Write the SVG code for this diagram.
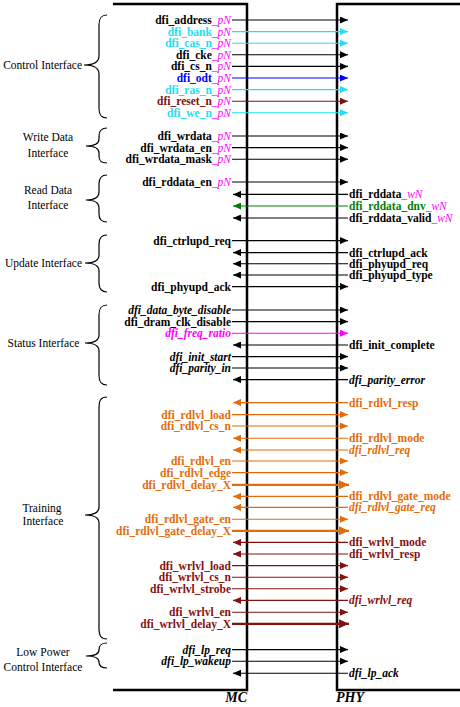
<svg xmlns="http://www.w3.org/2000/svg" width="460" height="707" viewBox="0 0 460 707">
<style>
.t{font-family:"Liberation Serif","Times New Roman",serif;font-size:11.5px;font-weight:bold}
.e{text-anchor:end}
.i{font-style:italic}
.s{fill:#FF00FF;font-style:italic;font-weight:normal}
.lb{font-family:"Liberation Serif","Times New Roman",serif;font-size:11.5px;fill:#000}
.c{text-anchor:middle}
.box{stroke:#000;stroke-width:2.5;fill:none}
.br{stroke:#000;stroke-width:1.2;fill:none}
.cn line{stroke-width:1.1}
.k{stroke:#000}.kf{fill:#000}
.cy{stroke:#22E0F2}.cyf{fill:#22E0F2}
.bl{stroke:#0000FF}.blf{fill:#0000FF}
.rd{stroke:#7F1010}.rdf{fill:#7F1010}
.gr{stroke:#007F00}.grf{fill:#007F00}
.mg{stroke:#FF00FF}.mgf{fill:#FF00FF}
.or{stroke:#E36C0A}.orf{fill:#E36C0A}
.wr{stroke:#861010}.wrf{fill:#861010}
.thick{stroke-width:2.3 !important}
.ttl{font-family:"Liberation Serif","Times New Roman",serif;font-size:14px;font-weight:bold;font-style:italic;fill:#000}
</style>
<defs>
<marker id="ak" markerUnits="userSpaceOnUse" markerWidth="8" markerHeight="7" refX="8" refY="3.5" orient="auto"><path d="M0,0L8,3.5L0,7z" fill="#000"/></marker>
<marker id="ac" markerUnits="userSpaceOnUse" markerWidth="8" markerHeight="7" refX="8" refY="3.5" orient="auto"><path d="M0,0L8,3.5L0,7z" fill="#22E0F2"/></marker>
<marker id="ab" markerUnits="userSpaceOnUse" markerWidth="8" markerHeight="7" refX="8" refY="3.5" orient="auto"><path d="M0,0L8,3.5L0,7z" fill="#0000FF"/></marker>
<marker id="ar" markerUnits="userSpaceOnUse" markerWidth="8" markerHeight="7" refX="8" refY="3.5" orient="auto"><path d="M0,0L8,3.5L0,7z" fill="#7F1010"/></marker>
<marker id="ag" markerUnits="userSpaceOnUse" markerWidth="8" markerHeight="7" refX="8" refY="3.5" orient="auto"><path d="M0,0L8,3.5L0,7z" fill="#007F00"/></marker>
<marker id="am" markerUnits="userSpaceOnUse" markerWidth="8" markerHeight="7" refX="8" refY="3.5" orient="auto"><path d="M0,0L8,3.5L0,7z" fill="#FF00FF"/></marker>
<marker id="ao" markerUnits="userSpaceOnUse" markerWidth="8" markerHeight="7" refX="8" refY="3.5" orient="auto"><path d="M0,0L8,3.5L0,7z" fill="#E36C0A"/></marker>
<marker id="aw" markerUnits="userSpaceOnUse" markerWidth="8" markerHeight="7" refX="8" refY="3.5" orient="auto"><path d="M0,0L8,3.5L0,7z" fill="#861010"/></marker>
<marker id="aoT" markerUnits="userSpaceOnUse" markerWidth="10" markerHeight="9" refX="10" refY="4.5" orient="auto"><path d="M0,0L10,4.5L0,9z" fill="#E36C0A"/></marker>
<marker id="awT" markerUnits="userSpaceOnUse" markerWidth="10" markerHeight="9" refX="10" refY="4.5" orient="auto"><path d="M0,0L10,4.5L0,9z" fill="#861010"/></marker>
</defs>
<rect width="460" height="707" fill="#fff"/>

<g id="mc">
<path class="box" d="M113,4H247V690H113"/>
<text class="ttl" x="247" y="702" text-anchor="end">MC</text>
</g>
<g id="phy">
<path class="box" d="M460,4H337V690H460"/>
<text class="ttl" x="336" y="702">PHY</text>
</g>

<g id="groups">
<g id="control-interface">
<path class="br" d="M107,15C101,15 99,18 99,25L99,56C99,62 95,65 84,65C95,65 99,68 99,74L99,108C99,115 101,118 107,118"/>
<text class="lb" x="82" y="69" text-anchor="end">Control Interface</text>
</g>
<g id="write-data-interface">
<path class="br" d="M107,128C101,128 99,131 99,136L99,139C99,143 95,146 86,146C95,146 99,149 99,153L99,156C99,161 101,163 107,163"/>
<text class="lb c" x="48" y="141">Write Data</text>
<text class="lb c" x="48" y="157">Interface</text>
</g>
<g id="read-data-interface">
<path class="br" d="M107,175C101,175 99,178 99,184L99,192C99,197 95,200 86,200C95,200 99,203 99,208L99,214C99,219 101,222 107,222"/>
<text class="lb c" x="48" y="194">Read Data</text>
<text class="lb c" x="48" y="209">Interface</text>
</g>
<g id="update-interface">
<path class="br" d="M107,235C101,235 99,238 99,244L99,255C99,260 95,263 85,263C95,263 99,266 99,271L99,283C99,289 101,292 107,292"/>
<text class="lb" x="82" y="267" text-anchor="end">Update Interface</text>
</g>
<g id="status-interface">
<path class="br" d="M107,305C101,305 99,308 99,315L99,335C99,340 95,343 85,343C95,343 99,346 99,351L99,375C99,382 101,385 107,385"/>
<text class="lb c" x="43.5" y="347">Status Interface</text>
</g>
<g id="training-interface">
<path class="br" d="M107,397C101,397 99,400 99,408L99,507C99,512 95,515 85,515C95,515 99,518 99,523L99,628C99,636 101,639 107,639"/>
<text class="lb c" x="42" y="512">Training</text>
<text class="lb c" x="43" y="525">Interface</text>
</g>
<g id="low-power-control-interface">
<path class="br" d="M107,643C101,643 99,645 99,650C99,654 95,656 86,656C95,656 99,658 99,662C99,666 101,668 107,668"/>
<text class="lb c" x="43" y="656">Low Power</text>
<text class="lb c" x="43" y="671">Control Interface</text>
</g>
</g>

<g id="connectors" class="cn">
<line class="k" x1="232" y1="20" x2="348" y2="20" marker-end="url(#ak)"/>
<line class="cy" x1="232" y1="31.6" x2="348" y2="31.6" marker-end="url(#ac)"/>
<line class="cy" x1="232" y1="43.2" x2="348" y2="43.2" marker-end="url(#ac)"/>
<line class="k" x1="232" y1="54.8" x2="348" y2="54.8" marker-end="url(#ak)"/>
<line class="k" x1="232" y1="66.4" x2="348" y2="66.4" marker-end="url(#ak)"/>
<line class="bl" x1="232" y1="78" x2="348" y2="78" marker-end="url(#ab)"/>
<line class="cy" x1="232" y1="89.6" x2="348" y2="89.6" marker-end="url(#ac)"/>
<line class="rd" x1="232" y1="101.2" x2="348" y2="101.2" marker-end="url(#ar)"/>
<line class="cy" x1="232" y1="112.8" x2="348" y2="112.8" marker-end="url(#ac)"/>

<line class="k" x1="232" y1="136" x2="348" y2="136" marker-end="url(#ak)"/>
<line class="k" x1="232" y1="147.6" x2="348" y2="147.6" marker-end="url(#ak)"/>
<line class="k" x1="232" y1="159.2" x2="348" y2="159.2" marker-end="url(#ak)"/>

<line class="k" x1="232" y1="182" x2="348" y2="182" marker-end="url(#ak)"/>
<line class="k" x1="348" y1="194.4" x2="233" y2="194.4" marker-end="url(#ak)"/>
<line class="gr" x1="348" y1="206" x2="233" y2="206" marker-end="url(#ag)"/>
<line class="k" x1="348" y1="218" x2="233" y2="218" marker-end="url(#ak)"/>

<line class="k" x1="232" y1="240.6" x2="348" y2="240.6" marker-end="url(#ak)"/>
<line class="k" x1="348" y1="252.6" x2="233" y2="252.6" marker-end="url(#ak)"/>
<line class="k" x1="348" y1="263.8" x2="233" y2="263.8" marker-end="url(#ak)"/>
<line class="k" x1="348" y1="275" x2="233" y2="275" marker-end="url(#ak)"/>
<line class="k" x1="232" y1="286.6" x2="348" y2="286.6" marker-end="url(#ak)"/>

<line class="k" x1="232" y1="310" x2="348" y2="310" marker-end="url(#ak)"/>
<line class="k" x1="232" y1="321.6" x2="348" y2="321.6" marker-end="url(#ak)"/>
<line class="mg" x1="232" y1="333.2" x2="348" y2="333.2" marker-end="url(#am)"/>
<line class="k" x1="348" y1="345" x2="233" y2="345" marker-end="url(#ak)"/>
<line class="k" x1="232" y1="356.6" x2="348" y2="356.6" marker-end="url(#ak)"/>
<line class="k" x1="232" y1="368" x2="348" y2="368" marker-end="url(#ak)"/>
<line class="k" x1="348" y1="379.6" x2="233" y2="379.6" marker-end="url(#ak)"/>

<line class="or" x1="348" y1="402.6" x2="233" y2="402.6" marker-end="url(#ao)"/>
<line class="or" x1="232" y1="414.6" x2="348" y2="414.6" marker-end="url(#ao)"/>
<line class="or" x1="232" y1="426" x2="348" y2="426" marker-end="url(#ao)"/>
<line class="or" x1="348" y1="438.2" x2="233" y2="438.2" marker-end="url(#ao)"/>
<line class="or" x1="348" y1="450" x2="233" y2="450" marker-end="url(#ao)"/>
<line class="or" x1="232" y1="461" x2="348" y2="461" marker-end="url(#ao)"/>
<line class="or" x1="232" y1="472.6" x2="348" y2="472.6" marker-end="url(#ao)"/>
<line class="or thick" x1="232" y1="484.8" x2="349" y2="484.8" marker-end="url(#aoT)"/>
<line class="or" x1="348" y1="496.4" x2="233" y2="496.4" marker-end="url(#ao)"/>
<line class="or" x1="348" y1="507.4" x2="233" y2="507.4" marker-end="url(#ao)"/>
<line class="or" x1="232" y1="519.2" x2="348" y2="519.2" marker-end="url(#ao)"/>
<line class="or thick" x1="232" y1="530.8" x2="349" y2="530.8" marker-end="url(#aoT)"/>

<line class="wr" x1="348" y1="542.4" x2="233" y2="542.4" marker-end="url(#aw)"/>
<line class="wr" x1="348" y1="554" x2="233" y2="554" marker-end="url(#aw)"/>
<line class="wr" x1="232" y1="565.6" x2="348" y2="565.6" marker-end="url(#aw)"/>
<line class="wr" x1="232" y1="577.2" x2="348" y2="577.2" marker-end="url(#aw)"/>
<line class="wr" x1="232" y1="588.8" x2="348" y2="588.8" marker-end="url(#aw)"/>
<line class="wr" x1="348" y1="600.4" x2="233" y2="600.4" marker-end="url(#aw)"/>
<line class="wr" x1="232" y1="612.2" x2="348" y2="612.2" marker-end="url(#aw)"/>
<line class="wr thick" x1="232" y1="623.8" x2="349" y2="623.8" marker-end="url(#awT)"/>

<line class="k" x1="232" y1="649.6" x2="348" y2="649.6" marker-end="url(#ak)"/>
<line class="k" x1="232" y1="661.2" x2="348" y2="661.2" marker-end="url(#ak)"/>
<line class="k" x1="348" y1="673.2" x2="233" y2="673.2" marker-end="url(#ak)"/>
</g>

<g id="signals">
<g id="dfi_address"><text class="t e kf" x="231" y="24">dfi_address<tspan class="s">_pN</tspan></text></g>
<g id="dfi_bank"><text class="t e cyf" x="231" y="35.6">dfi_bank<tspan class="s">_pN</tspan></text></g>
<g id="dfi_cas_n"><text class="t e cyf" x="231" y="47.2">dfi_cas_n<tspan class="s">_pN</tspan></text></g>
<g id="dfi_cke"><text class="t e kf" x="231" y="58.8">dfi_cke<tspan class="s">_pN</tspan></text></g>
<g id="dfi_cs_n"><text class="t e kf" x="231" y="70.4">dfi_cs_n<tspan class="s">_pN</tspan></text></g>
<g id="dfi_odt"><text class="t e blf" x="231" y="82">dfi_odt<tspan class="s">_pN</tspan></text></g>
<g id="dfi_ras_n"><text class="t e cyf" x="231" y="93.6">dfi_ras_n<tspan class="s">_pN</tspan></text></g>
<g id="dfi_reset_n"><text class="t e rdf" x="231" y="105.2">dfi_reset_n<tspan class="s">_pN</tspan></text></g>
<g id="dfi_we_n"><text class="t e cyf" x="231" y="116.8">dfi_we_n<tspan class="s">_pN</tspan></text></g>

<g id="dfi_wrdata"><text class="t e kf" x="231" y="140">dfi_wrdata<tspan class="s">_pN</tspan></text></g>
<g id="dfi_wrdata_en"><text class="t e kf" x="231" y="151.6">dfi_wrdata_en<tspan class="s">_pN</tspan></text></g>
<g id="dfi_wrdata_mask"><text class="t e kf" x="231" y="163.2">dfi_wrdata_mask<tspan class="s">_pN</tspan></text></g>

<g id="dfi_rddata_en"><text class="t e kf" x="231" y="186">dfi_rddata_en<tspan class="s">_pN</tspan></text></g>
<g id="dfi_rddata"><text class="t kf" x="349" y="198.4">dfi_rddata<tspan class="s">_wN</tspan></text></g>
<g id="dfi_rddata_dnv"><text class="t grf" x="349" y="210">dfi_rddata_dnv<tspan class="s">_wN</tspan></text></g>
<g id="dfi_rddata_valid"><text class="t kf" x="349" y="222">dfi_rddata_valid<tspan class="s">_wN</tspan></text></g>

<g id="dfi_ctrlupd_req"><text class="t e kf" x="231" y="244.6">dfi_ctrlupd_req</text></g>
<g id="dfi_ctrlupd_ack"><text class="t kf" x="349" y="256.6">dfi_ctrlupd_ack</text></g>
<g id="dfi_phyupd_req"><text class="t kf" x="349" y="267.8">dfi_phyupd_req</text></g>
<g id="dfi_phyupd_type"><text class="t kf" x="349" y="279">dfi_phyupd_type</text></g>
<g id="dfi_phyupd_ack"><text class="t e kf" x="231" y="290.6">dfi_phyupd_ack</text></g>

<g id="dfi_data_byte_disable"><text class="t e i kf" x="231" y="314">dfi_data_byte_disable</text></g>
<g id="dfi_dram_clk_disable"><text class="t e kf" x="231" y="325.6">dfi_dram_clk_disable</text></g>
<g id="dfi_freq_ratio"><text class="t e i mgf" x="231" y="337.2">dfi_freq_ratio</text></g>
<g id="dfi_init_complete"><text class="t kf" x="349" y="349">dfi_init_complete</text></g>
<g id="dfi_init_start"><text class="t e i kf" x="231" y="360.6">dfi_init_start</text></g>
<g id="dfi_parity_in"><text class="t e i kf" x="231" y="372">dfi_parity_in</text></g>
<g id="dfi_parity_error"><text class="t i kf" x="349" y="383.6">dfi_parity_error</text></g>

<g id="dfi_rdlvl_resp"><text class="t orf" x="349" y="406.6">dfi_rdlvl_resp</text></g>
<g id="dfi_rdlvl_load"><text class="t e orf" x="231" y="418.6">dfi_rdlvl_load</text></g>
<g id="dfi_rdlvl_cs_n"><text class="t e orf" x="231" y="430">dfi_rdlvl_cs_n</text></g>
<g id="dfi_rdlvl_mode"><text class="t orf" x="349" y="442.2">dfi_rdlvl_mode</text></g>
<g id="dfi_rdlvl_req"><text class="t i orf" x="349" y="454">dfi_rdlvl_req</text></g>
<g id="dfi_rdlvl_en"><text class="t e orf" x="231" y="465">dfi_rdlvl_en</text></g>
<g id="dfi_rdlvl_edge"><text class="t e orf" x="231" y="476.6">dfi_rdlvl_edge</text></g>
<g id="dfi_rdlvl_delay_X"><text class="t e orf" x="231" y="488.8">dfi_rdlvl_delay_X</text></g>
<g id="dfi_rdlvl_gate_mode"><text class="t orf" x="349" y="500.4">dfi_rdlvl_gate_mode</text></g>
<g id="dfi_rdlvl_gate_req"><text class="t i orf" x="349" y="511.4">dfi_rdlvl_gate_req</text></g>
<g id="dfi_rdlvl_gate_en"><text class="t e orf" x="231" y="523.2">dfi_rdlvl_gate_en</text></g>
<g id="dfi_rdlvl_gate_delay_X"><text class="t e orf" x="231" y="534.8">dfi_rdlvl_gate_delay_X</text></g>

<g id="dfi_wrlvl_mode"><text class="t wrf" x="349" y="546.4">dfi_wrlvl_mode</text></g>
<g id="dfi_wrlvl_resp"><text class="t wrf" x="349" y="558">dfi_wrlvl_resp</text></g>
<g id="dfi_wrlvl_load"><text class="t e wrf" x="231" y="569.6">dfi_wrlvl_load</text></g>
<g id="dfi_wrlvl_cs_n"><text class="t e wrf" x="231" y="581.2">dfi_wrlvl_cs_n</text></g>
<g id="dfi_wrlvl_strobe"><text class="t e wrf" x="231" y="592.8">dfi_wrlvl_strobe</text></g>
<g id="dfi_wrlvl_req"><text class="t i wrf" x="349" y="604.4">dfi_wrlvl_req</text></g>
<g id="dfi_wrlvl_en"><text class="t e wrf" x="231" y="616.2">dfi_wrlvl_en</text></g>
<g id="dfi_wrlvl_delay_X"><text class="t e wrf" x="231" y="627.8">dfi_wrlvl_delay_X</text></g>

<g id="dfi_lp_req"><text class="t e i kf" x="231" y="653.6">dfi_lp_req</text></g>
<g id="dfi_lp_wakeup"><text class="t e i kf" x="231" y="665.2">dfi_lp_wakeup</text></g>
<g id="dfi_lp_ack"><text class="t i kf" x="349" y="677.2">dfi_lp_ack</text></g>
</g>
</svg>
